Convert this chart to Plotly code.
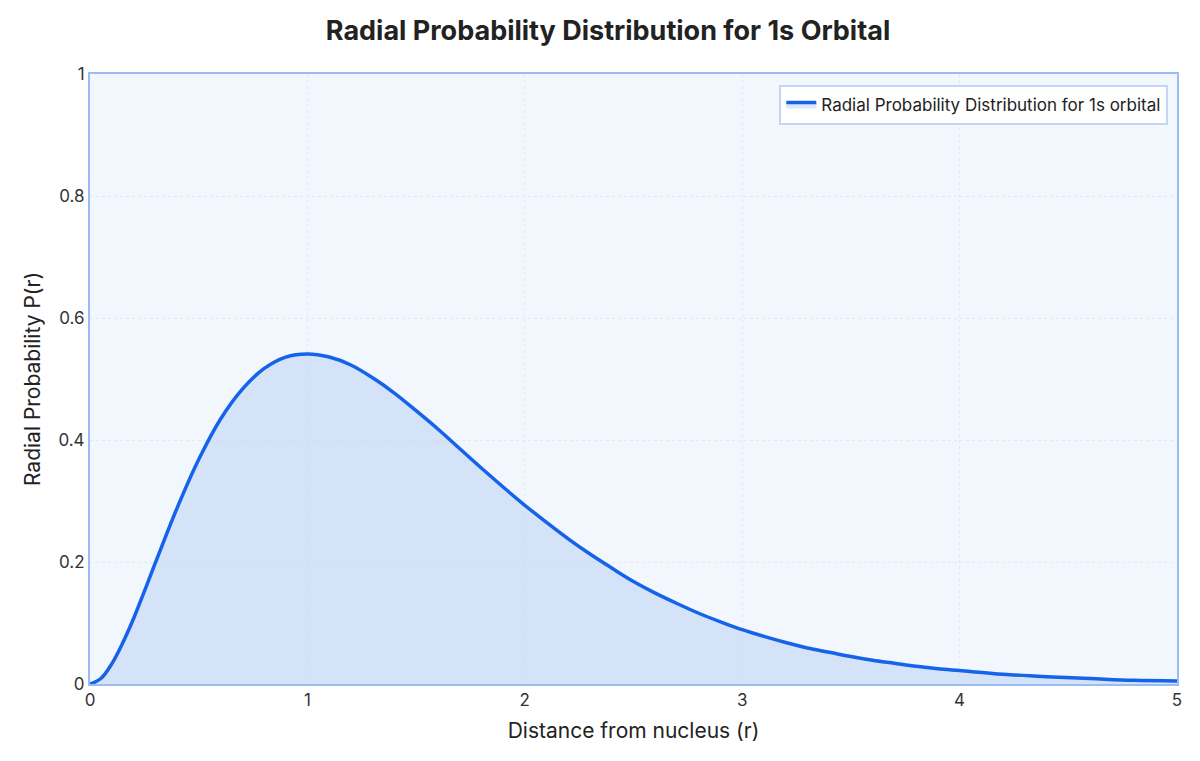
import plotly.graph_objects as go

# Distance from nucleus (r) and radial probability P(r)
r_vals = [0, 0.05, 0.1, 0.15, 0.2, 0.25, 0.3, 0.4, 0.5, 0.6, 0.7, 0.8, 0.9, 1.0,
          1.1, 1.2, 1.3, 1.4, 1.5, 1.6, 1.7, 1.8, 1.9, 2.0,
          2.1, 2.2, 2.3, 2.4, 2.5, 2.6, 2.7, 2.8, 2.9, 3.0,
          3.1, 3.2, 3.3, 3.4, 3.5, 3.6, 3.7, 3.8, 3.9, 4.0,
          4.2, 4.4, 4.6, 4.8, 5.0]
p_vals = [0, 0.009, 0.033, 0.067, 0.107, 0.152, 0.198, 0.288, 0.368, 0.434, 0.483, 0.517, 0.536, 0.541,
          0.536, 0.523, 0.502, 0.477, 0.448, 0.418, 0.386, 0.354, 0.323, 0.293,
          0.265, 0.238, 0.213, 0.190, 0.168, 0.149, 0.132, 0.116, 0.102, 0.089,
          0.078, 0.068, 0.059, 0.052, 0.045, 0.039, 0.034, 0.029, 0.025, 0.022,
          0.016, 0.012, 0.009, 0.006, 0.005]

x_ticks = [0, 1, 2, 3, 4, 5]
y_ticks = [0, 0.2, 0.4, 0.6, 0.8, 1]

FONT = "Inter"
AXIS_BLUE = "#9bbcf3"

fig = go.Figure()
fig.add_trace(go.Scatter(
    x=r_vals, y=p_vals,
    mode="lines",
    line=dict(color="#1463ea", width=3.5, shape="spline", smoothing=1),
    fill="tozeroy",
    fillcolor="rgba(190,212,245,0.55)",
    name="Radial Probability Distribution for 1s orbital",
))

axis_common = dict(
    showline=True, linecolor=AXIS_BLUE, linewidth=2, mirror=True,
    showgrid=True, gridcolor="#e3e9f3", griddash="dot", gridwidth=1,
    zeroline=False, ticks="", tickfont=dict(size=17, color="#333"),
)

fig.update_layout(
    width=1200, height=761,
    margin=dict(l=82, r=31, t=66, b=85),
    paper_bgcolor="white",
    plot_bgcolor="#f2f6fd",
    font=dict(family=FONT, color="#222"),
    title=dict(
        text="<b>Radial Probability Distribution for 1s Orbital</b>",
        x=0.5, xanchor="center", y=0.97, yanchor="middle",
        font=dict(size=27, color="#222"),
    ),
    xaxis=dict(axis_common, range=[0, 5], tickvals=x_ticks,
               title=dict(text="Distance from nucleus (r)", font=dict(size=21), standoff=14)),
    yaxis=dict(axis_common, range=[0, 1], tickvals=y_ticks,
               title=dict(text="Radial Probability P(r)", font=dict(size=21), standoff=12)),
    legend=dict(
        x=0.992, y=0.982, xanchor="right", yanchor="top",
        bgcolor="white", bordercolor="#c3d6f7", borderwidth=2,
        font=dict(size=17, color="#222"),
    ),
    showlegend=True,
)

fig.write_html("out.html")
